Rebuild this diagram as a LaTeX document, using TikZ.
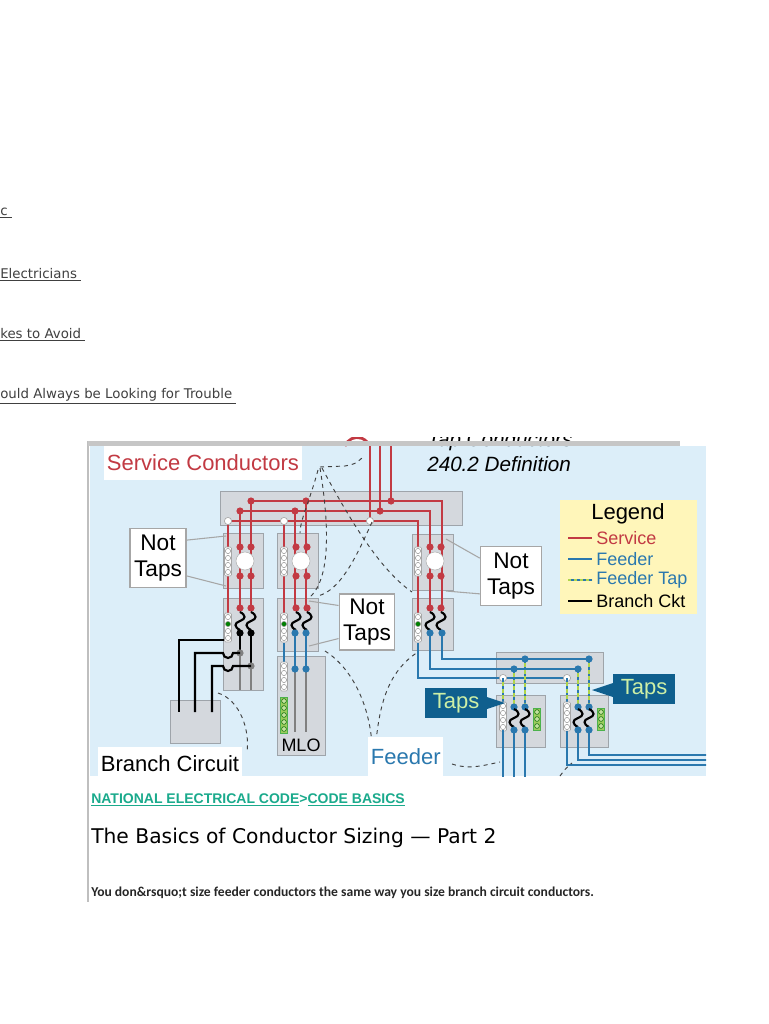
\documentclass[tikz,border=0pt]{standalone}
\usepackage{fontspec}
\setmainfont{Liberation Sans}
\newfontfamily\dvs{DejaVu Sans}
\newfontfamily\carl{Carlito}
\begin{document}
\begin{tikzpicture}[x=0.75pt,y=-0.75pt,
 wire/.style={line width=2.1pt},
 thin wire/.style={line width=1.6pt},
 dash line/.style={dashed,line width=0.7pt,black!75},
 gbox/.style={fill=boxgray,draw=boxedge,line width=0.5pt},
 lab/.style={fill=white,inner sep=2pt,font=\fontsize{16.5}{18}\selectfont},
 ntap/.style={fill=white,draw=gray!70,line width=0.8pt,align=center,font=\fontsize{17}{19}\selectfont,inner sep=3pt},
 tapbox/.style={fill=tapblue,text=tapgreen,font=\fontsize{16.5}{18}\selectfont,inner sep=3pt,minimum width=46.5pt,minimum height=22pt},
 link/.style={font=\dvs\fontsize{10}{12}\selectfont,text=black!75,anchor=west,inner sep=0pt}]
\definecolor{svc}{HTML}{C23A43}
\definecolor{fdr}{HTML}{2A78AE}
\definecolor{bgb}{HTML}{DCEEF9}
\definecolor{boxgray}{HTML}{D4D8DD}
\definecolor{boxedge}{HTML}{9EA4AA}
\definecolor{tapblue}{HTML}{0F5F8E}
\definecolor{tapgreen}{HTML}{CDEFA6}
\definecolor{teal}{HTML}{1AAA8C}
\definecolor{ledg}{HTML}{FFF6BA}
\definecolor{fgreen}{HTML}{9CCB5C}
\newcommand{\tstrip}[4]{% x, ytop, n, green index
 \fill[white,draw=gray!70,line width=0.4pt,rounded corners=1pt] (#1-3.5,#2) rectangle (#1+3.5,#2+#3*7+1);
 \foreach \k in {1,...,#3}{\ifnum\k=#4 \def\cc{green!50!black}\else\def\cc{white}\fi
  \filldraw[fill=\cc,draw=gray!80,line width=0.4pt] (#1,#2+\k*7-3) circle (2.6);}}
\newcommand{\gstrip}[3]{%
 \fill[fgreen,draw=gray!60!green,line width=0.4pt] (#1-3.5,#2) rectangle (#1+3.5,#2+#3*7+1);
 \foreach \k in {1,...,#3}{\filldraw[fill=fgreen!60,draw=green!40!black,line width=0.4pt] (#1,#2+\k*7-3) circle (2.4);}}
\newcommand{\fuse}[2]{\draw[black,line width=1.6pt] (#1,#2) .. controls (#1+6,#2+3) and (#1+6,#2+7) .. (#1,#2+9) .. controls (#1-6,#2+11) and (#1-6,#2+15) .. (#1,#2+18);}
\newcommand{\dotc}[3]{\fill[#3] (#1,#2) circle (3.6);}
\newcommand{\wdot}[2]{\filldraw[fill=white,draw=gray!70,line width=0.5pt] (#1,#2) circle (3.6);}
\useasboundingbox (0,0) rectangle (768,1024);
\fill[white] (0,0) rectangle (768,1024);
% side links
\node[link] (l1) at (0,213) {\underline{c }};
\node[link] (l2) at (0,275) {\underline{Electricians }};
\node[link] (l3) at (0,335) {\underline{kes to Avoid }};
\node[link] (l4) at (0,396) {\underline{ould Always be Looking for Trouble }};
% frame
\draw[gray!50,line width=0.8pt] (88,441) -- (88,902);
\fill[bgb] (90,446) rectangle (706,776);
\begin{scope}
\clip (90,437) rectangle (706,776);
\node[font=\itshape\fontsize{15.5}{17}\selectfont,anchor=west,inner sep=0] (tc) at (427,441) {Tap Conductors};
\node[font=\itshape\fontsize{15.5}{17}\selectfont,anchor=west,inner sep=0] (def) at (427,464) {240.2 Definition};
\draw[svc,wire] (345,446) arc (200:320:13);
% main bar
\draw[gbox] (220,491) rectangle (462,525);
% service verticals
\draw[svc,wire] (370,446) -- (370,521); \draw[svc,wire] (380,446) -- (380,511); \draw[svc,wire] (391,446) -- (391,501);
% boxes
\draw[gbox] (223,533) rectangle (263,588);
\draw[gbox] (277,533) rectangle (318,588);
\draw[gbox] (412,534) rectangle (453,590);
\draw[gbox] (223,598) rectangle (263,690);
\draw[gbox] (277,598) rectangle (318,651);
\draw[gbox] (412,598) rectangle (453,650);
\draw[gbox] (277,656) rectangle (325,755);
\draw[gbox] (170,700) rectangle (220,743);
\draw[gbox] (496,652) rectangle (603,683);
\draw[gbox] (496,695) rectangle (545,747);
\draw[gbox] (560,695) rectangle (608,747);
% service horizontals and drops
\draw[svc,wire] (251,608) -- (251,501) -- (442,501) -- (442,608);
\draw[svc,wire] (240,608) -- (240,511) -- (430,511) -- (430,608);
\draw[svc,wire] (228,613) -- (228,521) -- (418,521) -- (418,614);
\draw[svc,wire] (306,501) -- (306,608); \draw[svc,wire] (295,511) -- (295,608); \draw[svc,wire] (284,521) -- (284,614);
\foreach \x/\y in {251/501,306/501,391/501,240/511,295/511,380/511}{\dotc{\x}{\y}{svc}}
\foreach \x in {228,284,370}{\wdot{\x}{521}}
% upper disconnects
\foreach \a in {228,284,418}{
 \filldraw[fill=white,draw=gray!60] (\a+17,561) circle (9);
 \foreach \b in {12,23}{\dotc{\a+\b}{547}{svc}\dotc{\a+\b}{576}{svc}}
 \tstrip{\a}{547}{4}{0}}
% lower boxes: fuses
\foreach \a in {228,284,418}{
 \foreach \b in {12,23}{\dotc{\a+\b}{608}{svc}\fuse{\a+\b}{612}}
 \tstrip{\a}{613}{4}{2}}
% left branch
\draw[black,thin wire] (240,633) -- (240,653); \draw[black,thin wire] (251,633) -- (251,666);
\draw[gray,line width=1.2pt] (240,653) -- (240,690); \draw[gray,line width=1.2pt] (251,666) -- (251,690);
\foreach \b in {240,251}{\dotc{\b}{633}{black}}
\dotc{240}{653}{gray}\dotc{251}{666}{gray}
\draw[black,thin wire] (224,640) -- (179,640) -- (179,712);
\draw[black,thin wire] (240,653) -- (233,653) arc (0:180:5) -- (195,653) -- (195,712);
\draw[black,thin wire] (251,666) -- (233,666) arc (0:180:5) -- (212,666) -- (212,712);
% middle to MLO
\draw[fdr,thin wire] (284,643) -- (284,662);
\draw[fdr,thin wire] (295,633) -- (295,669); \draw[fdr,thin wire] (306,633) -- (306,669);
\draw[gray,line width=1.2pt] (295,669) -- (295,732); \draw[gray,line width=1.2pt] (306,669) -- (306,732);
\foreach \b in {295,306}{\dotc{\b}{633}{fdr}\dotc{\b}{669}{fdr}}
\tstrip{284}{662}{4}{0}
\gstrip{284}{697}{5}
\node[font=\fontsize{13.5}{15}\selectfont,inner sep=0] (mlo) at (301,745) {MLO};
% right feeder
\draw[fdr,thin wire] (418,643) -- (418,678) -- (567,678);
\draw[fdr,thin wire] (430,633) -- (430,669) -- (578,669);
\draw[fdr,thin wire] (442,633) -- (442,659) -- (589,659);
\foreach \b in {430,442}{\dotc{\b}{633}{fdr}}
\foreach \x/\y in {514/669,578/669,525/659,589/659}{\dotc{\x}{\y}{fdr}}
\wdot{503}{678}\wdot{567}{678}
% taps
\foreach \x/\y in {503/678,514/669,525/659,567/678,578/669,589/659}{
 \draw[fdr,line width=1.4pt] (\x,\y) -- (\x,707);
 \draw[fgreen!80!yellow,line width=1.4pt,dash pattern=on 3pt off 2pt] (\x,\y+4) -- (\x,705);}
\foreach \a/\g in {503/537,567/601}{
 \foreach \b in {11,22}{\dotc{\a+\b}{707}{fdr}\fuse{\a+\b}{709}\dotc{\a+\b}{730}{fdr}}
 \tstrip{\a}{702}{4}{0}\gstrip{\g}{708}{3}}
\foreach \x in {503,514,525}{\draw[fdr,thin wire] (\x,730) -- (\x,780);}
\draw[fdr,thin wire] (567,731) -- (567,765) -- (710,765);
\draw[fdr,thin wire] (578,730) -- (578,760) -- (710,760);
\draw[fdr,thin wire] (589,730) -- (589,755) -- (710,755);
% dashed callout curves
\draw[dash line] (320,467) -- (345,466) .. controls (355,464) .. (362,458);
\draw[dash line] (320,468) .. controls (330,530) and (330,580) .. (309,598);
\draw[dash line] (322,468) .. controls (350,520) and (380,570) .. (412,592);
\draw[dash line] (372,522) .. controls (355,560) and (340,590) .. (318,596);
\draw[dash line] (318,470) .. controls (310,500) and (300,520) .. (300,533);
\draw[dash line] (325,651) .. controls (355,670) and (370,710) .. (372,745);
\draw[dash line] (376,742) .. controls (380,700) and (390,670) .. (418,652);
\draw[dash line] (452,764) .. controls (470,770) and (485,765) .. (500,762);
\draw[dash line] (560,776) .. controls (566,768) .. (572,763);
\draw[dash line] (218,693) .. controls (240,700) and (250,730) .. (247,752);
\end{scope}
\fill[gray!45] (88,441) rectangle (680,446);
% labels
\node[lab,text=svc,anchor=west,minimum height=26] (sc) at (104,463) {Service Conductors};
\node[lab,anchor=west,minimum height=26] (bc) at (98,764) {Branch Circuit};
\node[lab,text=fdr,anchor=west,minimum height=30] (fd) at (368,757) {Feeder};
\node[ntap,minimum width=42,minimum height=44] (nt1) at (158,558) {Not\\Taps};
\node[ntap,minimum width=38,minimum height=42] (nt2) at (367,622) {Not\\Taps};
\node[ntap,minimum width=46,minimum height=44] (nt3) at (511,576) {Not\\Taps};
\draw[gray!70,line width=0.8pt] (nt1.north east) ++(0,12) -- (226,536) (nt1.south east) ++(0,-12) -- (226,586);
\draw[gray!70,line width=0.8pt] (nt2.north west) ++(0,12) -- (309,601) (nt2.south west) ++(0,-12) -- (309,646);
\draw[gray!70,line width=0.8pt] (nt3.north west) ++(0,12) -- (446,539) (nt3.south west) ++(0,-12) -- (446,591);
\node[tapbox] (tp1) at (456,703) {Taps};
\node[tapbox] (tp2) at (644,689) {Taps};
\fill[tapblue] (487,697) -- (505,703) -- (487,709) -- cycle;
\fill[tapblue] (613,683) -- (592,690) -- (613,697) -- cycle;
% legend
\fill[ledg] (560,500) rectangle (697,614);
\node[font=\fontsize{16.5}{18}\selectfont,inner sep=0] (lg) at (628,514) {Legend};
\draw[svc,line width=1.6pt] (568,538) -- (592,538);
\draw[fdr,line width=1.6pt] (568,559) -- (592,559);
\draw[fdr,line width=1.6pt] (568,580) -- (592,580); \draw[fgreen!80!yellow,line width=1.6pt,dash pattern=on 2.5pt off 2pt] (568,580) -- (592,580);
\draw[black,line width=1.6pt] (568,601) -- (592,601);
\begin{scope}[every node/.style={anchor=west,inner sep=0,font=\fontsize{13.5}{15}\selectfont}]
\node[text=svc] (ls) at (596,538) {Service};
\node[text=fdr] (lf) at (596,559) {Feeder};
\node[text=fdr] (lt) at (596,580) {Feeder Tap};
\node (lb) at (596,601) {Branch Ckt};
\end{scope}
% bottom text
\node[anchor=west,inner sep=0,text=teal,font=\bfseries\fontsize{10.5}{12}\selectfont] (cat) at (91,800) {\underline{NATIONAL ELECTRICAL CODE}>\underline{CODE BASICS}};
\node[anchor=west,inner sep=0,font=\dvs\fontsize{15.2}{18}\selectfont] (title) at (91,838) {The Basics of Conductor Sizing — Part 2};
\node[anchor=west,inner sep=0,font=\carl\bfseries\fontsize{10.2}{12}\selectfont,text=black!85] (sub) at (91,893) {You don\&rsquo;t size feeder conductors the same way you size branch circuit conductors.};
\end{tikzpicture}
\end{document}
